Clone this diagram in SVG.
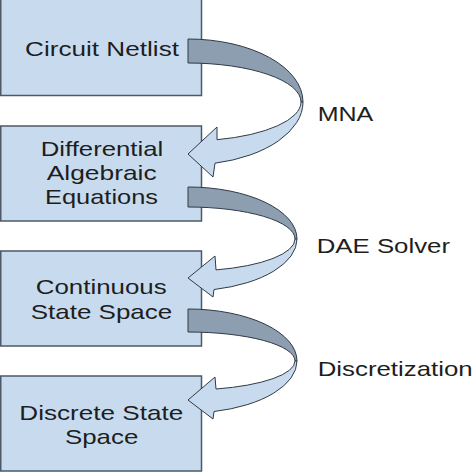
<svg xmlns="http://www.w3.org/2000/svg" width="474" height="472" viewBox="0 0 474 472">
<style>
.box{fill:#c8dbee;stroke:#4e5866;stroke-width:1.5}
.t{font-family:"Liberation Sans",Arial,sans-serif;font-size:21px;fill:#1e1e1e}
.dark{fill:#8e9eb1;stroke:#2f3a46;stroke-width:1}
.light{fill:#c8dbee;stroke:#2f3a46;stroke-width:1}
</style>
<rect width="474" height="472" fill="#ffffff"/>
<g id="node-circuit-netlist">
<rect class="box" x="0.75" y="-1" width="200.75" height="96.5"/>
<text class="t" x="25" y="56" textLength="154" lengthAdjust="spacingAndGlyphs">Circuit Netlist</text>
</g>
<g id="node-dae">
<rect class="box" x="0.75" y="126" width="200.75" height="95"/>
<text class="t" x="40.7" y="156" textLength="122.6" lengthAdjust="spacingAndGlyphs">Differential</text>
<text class="t" x="46.7" y="180" textLength="110" lengthAdjust="spacingAndGlyphs">Algebraic</text>
<text class="t" x="45" y="204" textLength="113" lengthAdjust="spacingAndGlyphs">Equations</text>
</g>
<g id="node-continuous">
<rect class="box" x="0.75" y="251" width="200.75" height="95"/>
<text class="t" x="35.7" y="294" textLength="131" lengthAdjust="spacingAndGlyphs">Continuous</text>
<text class="t" x="30.7" y="319" textLength="141.6" lengthAdjust="spacingAndGlyphs">State Space</text>
</g>
<g id="node-discrete">
<rect class="box" x="0.75" y="376" width="200.75" height="95"/>
<text class="t" x="19.3" y="420" textLength="164" lengthAdjust="spacingAndGlyphs">Discrete State</text>
<text class="t" x="65" y="443.5" textLength="73.3" lengthAdjust="spacingAndGlyphs">Space</text>
</g>
<g id="connectors">
<g id="arrow-mna">
<path class="dark" d="M188,39 A115,63 0 0 1 303,102 L301,102 A113,39 0 0 0 188,63 Z"/>
<path class="light" d="M301,102 A113,39 0 0 1 217,139.7 L217,127 L188,154 L213,177 L215,163.2 A115,63 0 0 0 303,102 Z"/>
<text class="t" x="317.7" y="120.7" textLength="55.6" lengthAdjust="spacingAndGlyphs">MNA</text>
</g>
<g id="arrow-dae-solver">
<path class="dark" d="M188,187 A109,52 0 0 1 297,239 L295,239 A107,32 0 0 0 188,207 Z"/>
<path class="light" d="M295,239 A107,32 0 0 1 216,269.9 L215,256 L188,278 L213,297 L214,289.5 A109,52 0 0 0 297,239 Z"/>
<text class="t" x="316.7" y="253.3" textLength="133.3" lengthAdjust="spacingAndGlyphs">DAE Solver</text>
</g>
<g id="arrow-discretization">
<path class="dark" d="M188,309 A109,52 0 0 1 297,361 L295,361 A107,29 0 0 0 188,332 Z"/>
<path class="light" d="M295,361 A107,29 0 0 1 216,389 L215,377 L188,400 L213,419 L214,411.5 A109,52 0 0 0 297,361 Z"/>
<text class="t" x="317.7" y="376" textLength="155" lengthAdjust="spacingAndGlyphs">Discretization</text>
</g>
</g>
</svg>
